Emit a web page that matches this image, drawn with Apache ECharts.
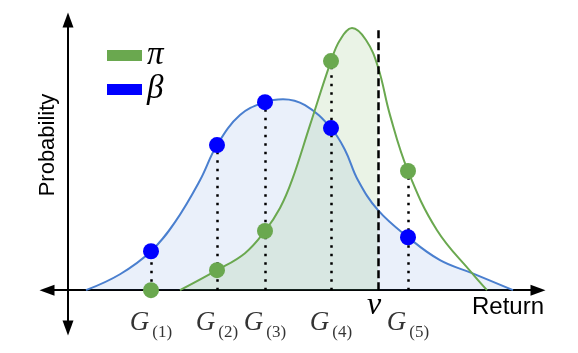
<!DOCTYPE html>
<html>
<head>
<meta charset="utf-8">
<script src="https://cdn.jsdelivr.net/npm/echarts@6/dist/echarts.min.js"></script>
<style>
html, body { margin: 0; padding: 0; background: #fff; }
#chart { width: 578px; height: 353px; }
</style>
</head>
<body>
<div id="chart"></div>
<script>
// curves: return (x) vs probability density (y)
const betaX = [1.8, 5.2, 8.3, 10.7, 13.2, 14.9, 17.2, 19.7, 21.5, 23.7, 26.3, 27.7, 29.0, 31.0, 34.0, 37.2, 40.4, 44.5]
const betaY = [0, 5.9, 14.4, 25.2, 40.7, 53.7, 64.8, 69.6, 70.7, 68.5, 60.0, 51.9, 40.7, 29.6, 19.6, 11.1, 6.3, 0]
const piX = [11.2, 14.9, 17.7, 19.7, 21.2, 22.4, 24.2, 26.3, 27.2, 28.4, 29.8, 31.0, 32.2, 34.0, 36.9, 40.4, 41.9]
const piY = [0, 7.4, 13.7, 21.9, 30.4, 40.7, 61.1, 84.8, 92.6, 97.0, 92.6, 82.6, 64.8, 44.1, 22.2, 6.3, 0]

// sampled returns G_(i) and the two densities at them
const sampleX = [8.3, 14.9, 19.7, 26.3, 34.0]
const sampleBeta = [14.4, 53.7, 69.6, 60.0, 19.6]
const samplePi = [0, 7.4, 21.9, 84.8, 44.1]
const sampleNames = ['(1)', '(2)', '(3)', '(4)', '(5)']

// threshold nu
const nu = 31.0
const nuTop = 97.0

const blueLine = '#4a7fcf'
const green = '#6aa84f'
const blueDot = '#0000ff'

const zip = (xs, ys) => xs.map((x, i) => [x, ys[i]])
const betaLine = zip(betaX, betaY)
const piLine = zip(piX, piY)
const piFill = piLine.filter(p => p[0] <= nu)

const chart = echarts.init(document.getElementById('chart'))

const axisLine = {
  onZero: true,
  symbol: ['triangle', 'triangle'],
  symbolSize: [11, 15],
  lineStyle: { color: '#000', width: 2 }
}

const option = {
  animation: false,
  grid: { left: 47, right: 40, top: 20, bottom: 25 },
  xAxis: {
    type: 'value', min: -2.1, max: 47,
    axisLine, axisTick: { show: false }, axisLabel: { show: false }, splitLine: { show: false }
  },
  yAxis: {
    type: 'value', min: -14, max: 100,
    axisLine, axisTick: { show: false }, axisLabel: { show: false }, splitLine: { show: false }
  },
  legend: {
    orient: 'vertical',
    left: 102,
    top: 34,
    icon: 'rect',
    itemWidth: 35,
    itemHeight: 11,
    itemGap: 1,
    selectedMode: false,
    textStyle: { fontFamily: 'Liberation Serif', fontStyle: 'italic', fontSize: 33, color: '#000' },
    data: [
      { name: 'π', itemStyle: { color: green, borderWidth: 0 } },
      { name: 'β', itemStyle: { color: blueDot, borderWidth: 0 } }
    ]
  },
  graphic: [
    {
      type: 'text', left: 472, top: 295,
      style: { text: 'Return', font: '24px "Liberation Sans"', fill: '#000' }
    },
    {
      type: 'text', x: 48, y: 145, rotation: Math.PI / 2,
      style: { text: 'Probability', font: '22px "Liberation Sans"', fill: '#000', align: 'center', verticalAlign: 'middle' }
    }
  ],
  series: [
    {
      name: 'β', type: 'line', data: betaLine, smooth: 0.4, symbol: 'none', z: 2,
      lineStyle: { color: blueLine, width: 2 },
      itemStyle: { color: blueDot },
      areaStyle: { color: 'rgba(74,127,207,0.16)' }
    },
    {
      name: 'π', type: 'line', data: piFill, smooth: 0.4, symbol: 'none', z: 2,
      lineStyle: { width: 0 },
      areaStyle: { color: 'rgba(106,168,79,0.2)' }
    },
    {
      name: 'π', type: 'line', data: piLine, smooth: 0.4, symbol: 'none', z: 3,
      lineStyle: { color: green, width: 2 },
      itemStyle: { color: green },
      markLine: {
        silent: true,
        symbol: 'none',
        lineStyle: { color: '#000', width: 2.5, type: [8, 4] },
        label: {
          show: true, position: 'start', distance: 5, formatter: 'ν',
          fontFamily: 'Liberation Serif', fontStyle: 'italic', fontSize: 32, lineHeight: 20,
          color: '#000', padding: [0, 8, 0, 0]
        },
        data: [[{ coord: [nu, 0] }, { coord: [nu, nuTop] }]]
      }
    },
    {
      type: 'scatter', z: 3,
      data: sampleX.map(x => [x, 0]),
      symbolSize: 1,
      itemStyle: { color: 'transparent' },
      label: {
        show: true, position: 'bottom', distance: 19,
        formatter: p => `{g|G}{s|${sampleNames[p.dataIndex]}}`,
        rich: {
          g: { fontFamily: 'Liberation Serif', fontStyle: 'italic', fontSize: 27, lineHeight: 28, verticalAlign: 'top', color: '#000' },
          s: { fontFamily: 'Liberation Serif', fontSize: 17, lineHeight: 17, verticalAlign: 'top', padding: [14, 0, 0, 3], color: '#000' }
        }
      },
      markLine: {
        silent: true,
        symbol: 'none',
        label: { show: false },
        lineStyle: { color: '#000', width: 2.5, type: [2.5, 6] },
        data: sampleX.map((x, i) => [{ coord: [x, 0] }, { coord: [x, Math.max(sampleBeta[i], samplePi[i])] }])
      }
    },
    {
      name: 'β', type: 'scatter', z: 5, symbolSize: 16,
      data: zip(sampleX, sampleBeta),
      itemStyle: { color: blueDot, opacity: 1 }
    },
    {
      name: 'π', type: 'scatter', z: 5, symbolSize: 16,
      data: zip(sampleX, samplePi),
      itemStyle: { color: green, opacity: 1 }
    }
  ]
}

chart.setOption(option)
</script>
</body>
</html>
